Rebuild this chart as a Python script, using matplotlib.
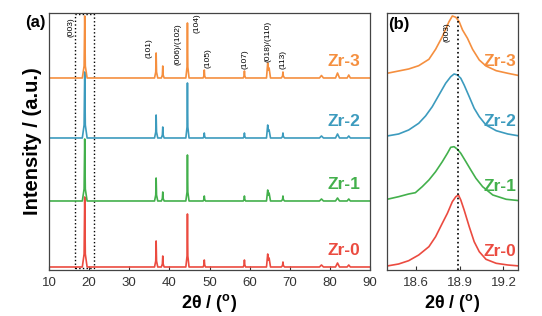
import matplotlib
matplotlib.use("Agg")
import matplotlib.pyplot as plt
from matplotlib.patches import Rectangle

plt.rcParams['font.family'] = ['Liberation Sans', 'DejaVu Sans']
plt.rcParams['mathtext.fontset'] = 'custom'
plt.rcParams['mathtext.rm'] = 'Liberation Sans'
plt.rcParams['mathtext.bf'] = 'Liberation Sans:bold'

samples = ['Zr-0', 'Zr-1', 'Zr-2', 'Zr-3']
colors = ['#EB4B40', '#43B04C', '#3C9BBE', '#F58F3F']

# panel (a): full pattern
two_theta = [10.0,
             18.3, 18.75, 18.9, 19.05, 19.5,
             36.3, 36.6, 36.7, 36.8, 37.1,
             38.0, 38.25, 38.35, 38.45, 38.7,
             44.1, 44.4, 44.5, 44.6, 44.9,
             48.4, 48.6, 48.7, 48.8, 49.0,
             58.4, 58.6, 58.7, 58.8, 59.0,
             64.2, 64.5, 64.7, 64.85, 65.2,
             67.9, 68.2, 68.3, 68.4, 68.7,
             77.4, 77.9, 78.4,
             81.4, 81.9, 82.4,
             84.3, 84.7, 85.1,
             90.0]

zr0 = [0, 0, 13, 70, 13, 0, 0, 6, 26, 6, 0, 0, 3, 11, 3, 0, 0, 11, 53, 11, 0,
       0, 2, 7, 2, 0, 0, 2, 7, 2, 0, 0, 13, 7, 9, 0, 0, 1.5, 5, 1.5, 0,
       0, 2, 0, 0, 4, 0, 0, 2, 0, 0]
zr1 = [0, 0, 12, 62, 12, 0, 0, 6, 23, 6, 0, 0, 2.5, 9, 2.5, 0, 0, 9, 46, 9, 0,
       0, 1.5, 5, 1.5, 0, 0, 1.5, 5, 1.5, 0, 0, 11, 6, 8, 0, 0, 1.5, 5, 1.5, 0,
       0, 2, 0, 0, 3, 0, 0, 2, 0, 0]
zr2 = [0, 0, 13, 66, 13, 0, 0, 6, 23, 6, 0, 0, 3, 11, 3, 0, 0, 11, 55, 11, 0,
       0, 1.5, 5, 1.5, 0, 0, 1.5, 5, 1.5, 0, 0, 13, 7, 8, 0, 0, 1.5, 5, 1.5, 0,
       0, 2, 0, 0, 4, 0, 0, 2, 0, 0]
zr3 = [0, 0, 12, 62, 12, 0, 0, 6, 25, 6, 0, 0, 3, 12, 3, 0, 0, 11, 55, 11, 0,
       0, 2, 8, 2, 0, 0, 2, 7, 2, 0, 0, 15, 8, 10, 0, 0, 2, 6, 2, 0,
       0, 2.5, 0, 0, 5, 0, 0, 3, 0, 0]
pattern = [zr0, zr1, zr2, zr3]
offsets_a = [3, 69, 132, 192]

hkl_labels = ['(003)', '(101)', '(006)/(102)', '(104)', '(105)', '(107)', '(018)/(110)', '(113)']
hkl_x = [15.6, 35.0, 42.1, 46.9, 49.5, 58.8, 64.6, 68.3]
hkl_y = [243, 222, 226, 247, 212, 211, 229, 210]

# panel (b): (003) peak zoom
x0 = [18.401, 18.480, 18.549, 18.618, 18.688, 18.734, 18.780, 18.815, 18.849, 18.873,
      18.891, 18.907, 18.930, 18.965, 18.999, 19.034, 19.080, 19.150, 19.230, 19.311]
y0 = [0, 2, 5.3, 11, 19.3, 29.3, 42.7, 52.7, 64.3, 69.3, 71, 66, 56, 39.3, 24.3, 14.3, 6.7, 2.7, 1, 0]
x1 = [18.401, 18.480, 18.549, 18.595, 18.642, 18.688, 18.734, 18.780, 18.815, 18.838,
      18.861, 18.884, 18.907, 18.942, 18.976, 19.011, 19.057, 19.127, 19.219, 19.311]
y1 = [1.7, 4.3, 7, 8.3, 14.3, 21, 29.3, 39.3, 47.7, 53.7, 54.3, 51.7, 47.7, 39.3, 31, 22.7, 14.3, 6, 1.7, 0.3]
x2 = [18.401, 18.480, 18.549, 18.618, 18.665, 18.711, 18.757, 18.803, 18.838, 18.861,
      18.884, 18.907, 18.930, 18.965, 18.999, 19.034, 19.080, 19.150, 19.230, 19.311]
y2 = [0, 2, 6, 12.7, 20, 29.3, 41, 52.7, 59.3, 62, 61, 57.7, 51, 39.3, 27.7, 19.3, 11, 5.3, 2, 0]
x3 = [18.401, 18.480, 18.549, 18.618, 18.688, 18.734, 18.780, 18.826, 18.849, 18.873,
      18.896, 18.919, 18.953, 18.988, 19.034, 19.080, 19.150, 19.230, 19.311]
y3 = [2.7, 5, 7, 10.3, 16.7, 26.7, 39.3, 54.3, 60, 58.7, 54.3, 46, 37.7, 26.7, 16, 10, 5.3, 2.7, 0.3]
peak_x = [x0, x1, x2, x3]
peak_y = [y0, y1, y2, y3]
offsets_b = [4, 69, 134, 194]
ref_line = 18.89

fig = plt.figure(figsize=(5.42, 3.16), dpi=100)
ax1 = fig.add_axes([0.0904, 0.1456, 0.5923, 0.8133])
ax2 = fig.add_axes([0.714, 0.1456, 0.2417, 0.8133])

for i in range(4):
    ax1.plot(two_theta, [v + offsets_a[i] for v in pattern[i]], color=colors[i], lw=1.2)
    ax1.text(87.5, offsets_a[i] + 16, samples[i], color=colors[i], fontsize=12.5,
             fontweight='bold', ha='right', va='center')
    ax2.plot(peak_x[i], [v + offsets_b[i] for v in peak_y[i]], color=colors[i], lw=1.2)
    ax2.text(19.29, offsets_b[i] + 14, samples[i], color=colors[i], fontsize=12.5,
             fontweight='bold', ha='right', va='center')

for lab, hx, hy in zip(hkl_labels, hkl_x, hkl_y):
    ax1.text(hx, hy, lab, rotation=90, fontsize=6, ha='center', va='center')

ax1.add_patch(Rectangle((16.5, 2), 4.7, 254, fill=False, ls=':', lw=1.0, ec='black'))
ax2.axvline(ref_line, color='black', ls=':', lw=1.2)
ax2.text(18.81, 238, '(003)', rotation=90, fontsize=6, ha='center', va='center')

ax1.set_xlim(10, 90)
ax1.set_xticks(range(10, 91, 10))
ax2.set_xlim(18.4, 19.3)
ax2.set_xticks([18.6, 18.9, 19.2])
for ax in (ax1, ax2):
    ax.set_ylim(0, 257)
    ax.set_yticks([])
    ax.tick_params(axis='x', direction='in', length=3, labelsize=9.5, colors='#333333', pad=5)
    for s in ax.spines.values():
        s.set_color('#444444')
        s.set_linewidth(0.9)
    ax.set_xlabel('2θ / ($\\mathbf{^{o}}$)', fontsize=13, fontweight='bold', labelpad=2)

ax1.set_ylabel('Intensity / (a.u.)', fontsize=14.5, fontweight='bold', labelpad=5)
fig.text(0.047, 0.93, '(a)', fontsize=12, fontweight='bold', ha='left', va='center')
ax2.text(0.01, 0.985, '(b)', transform=ax2.transAxes, fontsize=12, fontweight='bold',
         ha='left', va='top')

fig.savefig('out.png', dpi=100)
